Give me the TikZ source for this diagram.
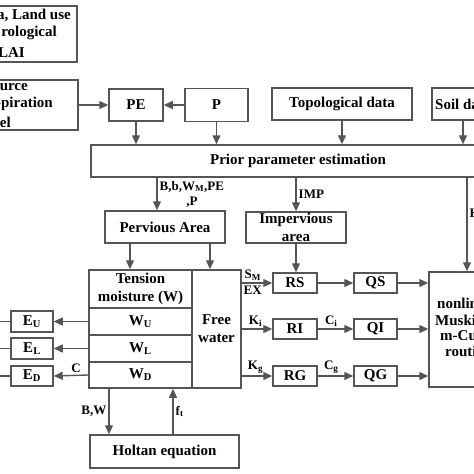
\documentclass[tikz,border=0pt]{standalone}
\usepackage{fontspec}
\setmainfont{Liberation Serif}
\usetikzlibrary{arrows.meta,
                positioning}
\definecolor{linegray}{HTML}{555555}

\begin{document}
\begin{tikzpicture}[x=1pt, y=-1pt,
            font = \fontsize{15}{18}\selectfont\bfseries,
            base/.style = {draw=linegray, line width=1.5pt, inner sep=0pt,
                    align=center},
            box/.style = {base, rectangle},
            frag/.style = {inner sep=0pt, anchor=#1},
            arr/.style = {draw=linegray, line width=1.4pt,
                    -{Triangle[length=9pt,width=8pt]}},
            plain/.style = {draw=linegray, line width=1.4pt},
            lbl/.style = {inner sep=2pt, font=\fontsize{13}{14}\selectfont\bfseries}]
        \useasboundingbox (0,0) rectangle (474,474);
        \clip (0,0) rectangle (474,474);

        % Inputs
        \node [box, minimum width=134, minimum height=56] (lu) at (10,34) {}; % cut box
        \node [frag=east] (lu-1) at (71,15) {a, Land use};
        \node [frag=east] (lu-2) at (57,33) {rological};
        \node [frag=east] (lu-3) at (25,53) {LAI};
        \node [box, minimum width=156, minimum height=50] (src) at (0,105) {}; % cut box
        \node [frag=east] (src-1) at (28,87) {urce};
        \node [frag=east] (src-2) at (53,104) {-piration};
        \node [frag=east] (src-3) at (11,122) {el};
        \node [box, minimum width=54, minimum height=32] (pe) at (136,105) {PE};
        \node [box, minimum width=63, minimum height=33] (p) at (216.5,105) {P};
        \node [box, minimum width=140, minimum height=32] (topo) at (342,104) {Topological data};
        \node [box, minimum width=62, minimum height=32] (soil) at (463,104) {};
        \node [frag=west] (soil-1) at (435,104) {Soil da};

        % Prior
        \node [box, minimum width=414, minimum height=32] (prior) at (298,161) {Prior parameter estimation};
        \node [box, minimum width=120, minimum height=32] (perv) at (165,227) {Pervious Area};
        \node [box, minimum width=100, minimum height=31] (imp) at (296,227.5) {Impervious\\area};

        % Soil moisture
        \node [box, minimum width=103, minimum height=38] (tens) at (140.5,289) {Tension\\moisture (W)};
        \node [box, minimum width=103, minimum height=27] (wu) at (140.5,321.5) {W\textsubscript{U}};
        \node [box, minimum width=103, minimum height=27] (wl) at (140.5,348.5) {W\textsubscript{L}};
        \node [box, minimum width=103, minimum height=26] (wd) at (140.5,375) {W\textsubscript{D}};
        \node [box, minimum width=49, minimum height=118] (free) at (216.5,329) {Free\\water};
        \node [box, minimum width=42, minimum height=21] (eu) at (32,321.5) {E\textsubscript{U}};
        \node [box, minimum width=42, minimum height=21] (el) at (32,348.5) {E\textsubscript{L}};
        \node [box, minimum width=42, minimum height=20] (ed) at (32,376) {E\textsubscript{D}};
        \node [box, minimum width=149, minimum height=33] (holt) at (164.5,451.5) {Holtan equation};
        \coordinate (lft) at (-2,0);

        % Runoff
        \node [box, minimum width=44, minimum height=20] (rs) at (295,283) {RS};
        \node [box, minimum width=44, minimum height=20] (ri) at (295,329) {RI};
        \node [box, minimum width=44, minimum height=20] (rg) at (295,376) {RG};
        \node [box, minimum width=43, minimum height=20] (qs) at (375.5,283) {QS};
        \node [box, minimum width=43, minimum height=20] (qi) at (375.5,329) {QI};
        \node [box, minimum width=43, minimum height=20] (qg) at (375.5,376) {QG};
        \node [box, minimum width=76, minimum height=115] (mc) at (467,329.5) {}; % cut box
        \node [frag=west] (mc-1) at (437,303) {nonlin};
        \node [frag=west] (mc-2) at (435,320) {Muski};
        \node [frag=west] (mc-3) at (440,336) {m-Cu};
        \node [frag=west] (mc-4) at (445,351) {routi};
        %%
        \draw [arr] (src) -- (pe);
        \draw [arr] (p) -- (pe);
        \draw [arr] (pe.south) -- (pe.south |- prior.north);
        \draw [arr] (p.south) -- (p.south |- prior.north);
        \draw [arr] (topo.south) -- (topo.south |- prior.north);
        \draw [arr] (soil.south) -- (soil.south |- prior.north);

        \draw [arr] ([xshift=-8pt]perv.north |- prior.south) -- node[lbl, right, align=center,
            font=\fontsize{13}{15}\selectfont\bfseries] {B,b,W\textsubscript{M},PE\\,P} ([xshift=-8pt]perv.north);
        \draw [arr] (imp.north |- prior.south) -- node[lbl, right] {IMP} (imp.north);
        \draw [arr] (mc.north |- prior.south) -- node[lbl, right, pos=0.38] {K} (mc.north);

        \draw [arr] ([xshift=-35pt]perv.south) -- ([xshift=-35pt]perv.south |- tens.north);
        \draw [arr] ([xshift=45pt]perv.south) -- ([xshift=45pt]perv.south |- free.north);
        \draw [arr] (imp.south) -- (imp.south |- rs.north);

        \draw [arr] (wu.west) -- (eu.east);
        \draw [arr] (wl.west) -- (el.east);
        \draw [arr] (wd.west) -- node[lbl, above, pos=0.35] {C} (ed.east);
        \draw [plain] (eu.west) -- (eu.west -| lft);
        \draw [plain] (el.west) -- (el.west -| lft);
        \draw [plain] (ed.west) -- (ed.west -| lft);

        \draw [arr] ([xshift=-31.5pt]wd.south) -- node[lbl, left] {B,W} ([xshift=-31.5pt]wd.south |- holt.north);
        \draw [arr] ([xshift=8.5pt]holt.north) -- node[lbl, right] {f\textsubscript{t}} ([xshift=8.5pt]holt.north |- wd.south);

        \draw [arr] (free.east |- rs.west) -- node[lbl, above, pos=0.36] {S\textsubscript{M}}
            node[lbl, below, pos=0.36] {EX} (rs.west);
        \draw [arr] (free.east |- ri.west) -- node[lbl, above, pos=0.45] {K\textsubscript{i}} (ri.west);
        \draw [arr] (free.east |- rg.west) -- node[lbl, above, pos=0.45] {K\textsubscript{g}} (rg.west);
        \draw [arr] (rs) -- (qs);
        \draw [arr] (ri) -- node[lbl, above, pos=0.38] {C\textsubscript{i}} (qi);
        \draw [arr] (rg) -- node[lbl, above, pos=0.38] {C\textsubscript{g}} (qg);
        \draw [arr] (qs.east) -- (qs.east -| mc.west);
        \draw [arr] (qi.east) -- (qi.east -| mc.west);
        \draw [arr] (qg.east) -- (qg.east -| mc.west);
    \end{tikzpicture}
\end{document}
